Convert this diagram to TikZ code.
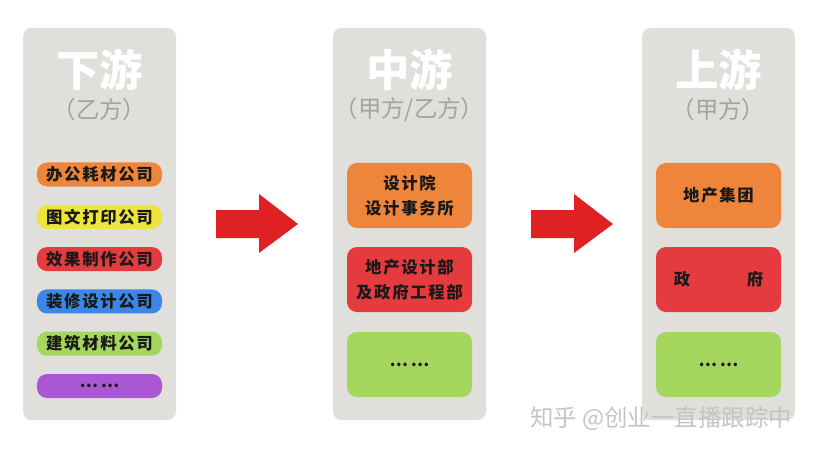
\documentclass[tikz,border=0pt]{standalone}
\usepackage{fontspec}
\setmainfont{Noto Sans CJK SC}
\newfontfamily\cjk{Noto Sans CJK SC}

\definecolor{panelgray}{HTML}{E0DFDC}
\definecolor{subgray}{HTML}{A3A3A3}
\definecolor{boxorange}{HTML}{EE853A}
\definecolor{boxyellow}{HTML}{EDE53C}
\definecolor{boxred}{HTML}{E63B3E}
\definecolor{boxblue}{HTML}{3C86E8}
\definecolor{boxgreen}{HTML}{A5D65E}
\definecolor{boxpurple}{HTML}{A957D2}
\definecolor{arrowred}{HTML}{E02124}
\definecolor{markgray}{HTML}{C4C4C4}

\tikzset{
  panel/.style={fill=panelgray, rounded corners=0.25cm},
  title/.style={text=white, font=\cjk\bfseries\fontsize{37}{37}\selectfont},
  subtitle/.style={text=subgray, font=\cjk\fontsize{20}{20}\selectfont},
  pill/.style={fill=#1, rounded corners=0.3cm, minimum width=3.75cm, minimum height=0.72cm,
    inner sep=0pt, text=black!90, font=\cjk\bfseries\fontsize{14}{14}\selectfont\addfontfeature{LetterSpace=10}},
  card/.style={fill=#1, rounded corners=0.3cm, minimum width=3.75cm, minimum height=1.95cm,
    inner sep=0pt, align=center, text=black!90, font=\cjk\bfseries\fontsize{14}{21}\selectfont\addfontfeature{LetterSpace=10}},
  blockarrow/.style={fill=arrowred}
}

\begin{document}
\begin{tikzpicture}[x=0.03cm,y=-0.03cm]
    \useasboundingbox (0,0) rectangle (819,453);

    % panels
    \fill [panel] (23,28) rectangle (176,420);
    \fill [panel] (333,28) rectangle (486,420);
    \fill [panel] (642,28) rectangle (795,420);

    \node [title] (down) at (99.5,70) {下游};
    \node [subtitle] (downsub) at (99.5,110) {（乙方）};
    \node [title] (mid) at (409.5,70) {中游};
    \node [subtitle] (midsub) at (409.5,110) {（甲方/乙方）};
    \node [title] (up) at (718.5,70) {上游};
    \node [subtitle] (upsub) at (718.5,110) {（甲方）};

    % downstream pills
    \foreach \lbl/\col [count=\i] in {办公耗材公司/boxorange, 图文打印公司/boxyellow,
        效果制作公司/boxred, 装修设计公司/boxblue, 建筑材料公司/boxgreen, …\,…/boxpurple}
        \node [pill=\col] (p\i) at (99.5,{174.5+42.3*(\i-1)}) {\lbl};

    % middle cards
    \node [card=boxorange] (m1) at (409.5,195.5) {设计院\\设计事务所};
    \node [card=boxred] (m2) at (409.5,279.5) {地产设计部\\及政府工程部};
    \node [card=boxgreen] (m3) at (409.5,364.5) {…\,…};

    % upstream cards
    \node [card=boxorange] (u1) at (718.5,195.5) {地产集团};
    \node [card=boxred] (u2) at (718.5,279.5) {政\hspace{1.7cm}府};
    \node [card=boxgreen] (u3) at (718.5,364.5) {…\,…};

    % block arrows
    \fill [blockarrow] (216,210) -- (259,210) -- (259,194) -- (298,224)
        -- (259,253) -- (259,238) -- (216,238) -- cycle;
    \fill [blockarrow] (531,210) -- (574,210) -- (574,194) -- (613,224)
        -- (574,253) -- (574,238) -- (531,238) -- cycle;

    \node [text=markgray, font=\cjk\fontsize{20}{20}\selectfont] (mark) at (661,419) {知乎 @创业一直播跟踪中};
\end{tikzpicture}
\end{document}
